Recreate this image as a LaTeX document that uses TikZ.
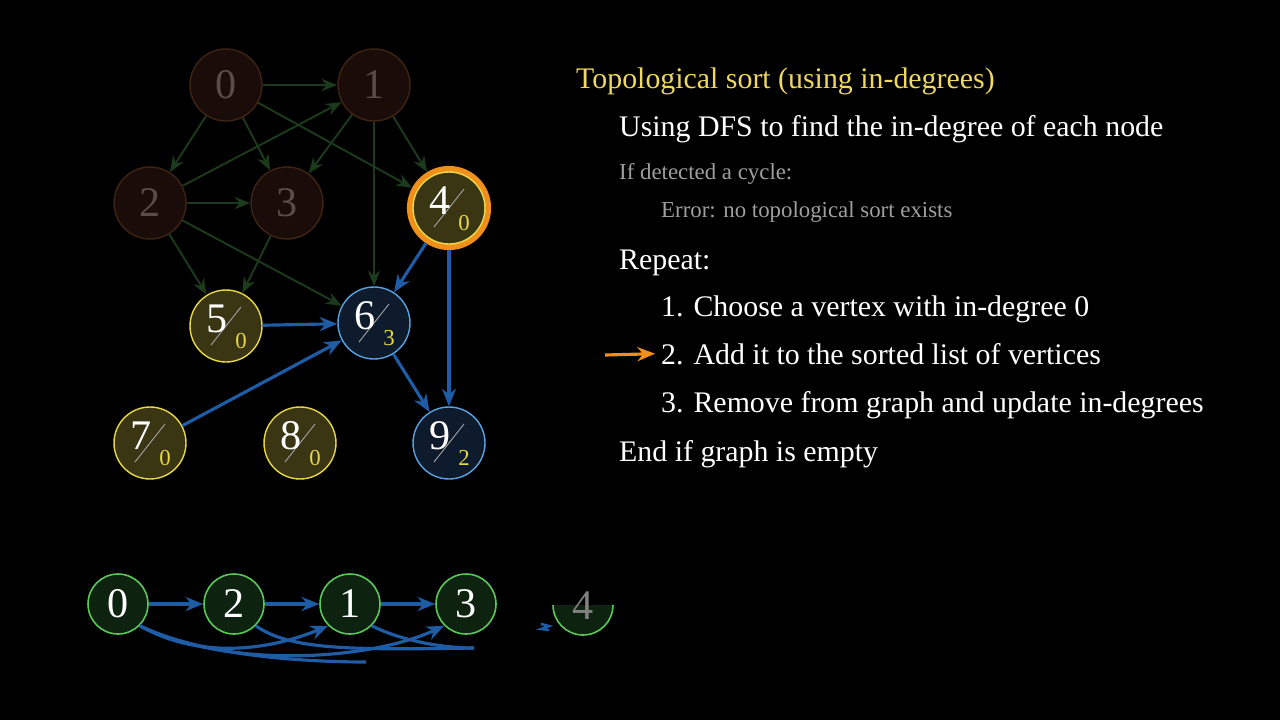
\documentclass[tikz,border=0pt]{standalone}
\usepackage{fontspec}
\setmainfont{Liberation Serif}
\usetikzlibrary{arrows.meta,positioning}
\definecolor{bgblack}{HTML}{000000}
\definecolor{fadefill}{HTML}{1A0C08}
\definecolor{fadeline}{HTML}{3F2414}
\definecolor{fadetext}{HTML}{5C4C48}
\definecolor{fadeedge}{HTML}{1C3A1C}
\definecolor{yelfill}{HTML}{3A3512}
\definecolor{yelline}{HTML}{E8D84A}
\definecolor{bluefill}{HTML}{0E1B2C}
\definecolor{blueline}{HTML}{5AA2E2}
\definecolor{edgeblue}{HTML}{1F5CA6}
\definecolor{ringorange}{HTML}{F0901A}
\definecolor{listfill}{HTML}{0E2210}
\definecolor{listline}{HTML}{5CC85C}
\definecolor{titleyel}{HTML}{EED860}

% in-degree label inside a vertex
\newcommand{\indeg}[3]{%
  \draw[gray!70, line width=0.5pt] ([shift={(-15,19)}]#1.center) -- ([shift={(15,-19)}]#1.center);
  \node[font=\fontsize{24}{24}\selectfont, text=white] at ([shift={(-9,-7)}]#1.center) {#2};
  \node[font=\fontsize{13}{13}\selectfont, text=yelline] at ([shift={(15,15)}]#1.center) {#3};
}

\begin{document}
\begin{tikzpicture}[
  x=0.02cm, y=-0.02cm,
  vtx/.style={circle, minimum size=1.44cm, inner sep=0pt, line width=0.8pt},
  faded/.style={vtx, fill=fadefill, draw=fadeline, text=fadetext,
                font=\fontsize{24}{24}\selectfont},
  ready/.style={vtx, fill=yelfill, draw=yelline},
  waiting/.style={vtx, fill=bluefill, draw=blueline},
  listed/.style={circle, minimum size=1.2cm, inner sep=0pt, line width=0.9pt,
                 fill=listfill, draw=listline, text=white, font=\fontsize{24}{24}\selectfont},
  oldedge/.style={-{Stealth[length=9pt,width=7pt]}, draw=fadeedge, line width=1.1pt},
  newedge/.style={-{Stealth[length=10pt,width=8pt]}, draw=edgeblue, line width=1.8pt},
  stepline/.style={anchor=base west, text=white, font=\fontsize{17}{17}\selectfont},
  noteline/.style={anchor=base west, text=gray!75, font=\fontsize{13}{13}\selectfont}
]
  \fill[bgblack] (0,0) rectangle (1280,720);
  \useasboundingbox (0,0) rectangle (1280,720);

  % graph vertices
  \node[faded] (v0) at (226,85) {0};
  \node[faded] (v1) at (374,85) {1};
  \node[faded] (v2) at (150,203) {2};
  \node[faded] (v3) at (287,203) {3};
  \node[ready, draw=ringorange, line width=3.5pt, minimum size=1.56cm] (ring4) at (449,208) {};
  \node[ready] (v4) at (449,208) {};
  \node[ready] (v5) at (226,326) {};
  \node[waiting] (v6) at (374,323) {};
  \node[ready] (v7) at (150,443) {};
  \node[ready] (v8) at (300,443) {};
  \node[waiting] (v9) at (449,443) {};

  \indeg{v4}{4}{0}
  \indeg{v5}{5}{0}
  \indeg{v6}{6}{3}
  \indeg{v7}{7}{0}
  \indeg{v8}{8}{0}
  \indeg{v9}{9}{2}

  % removed edges
  \draw[oldedge] (v0) -- (v1);
  \draw[oldedge] (v0) -- (v2);
  \draw[oldedge] (v0) -- (v3);
  \draw[oldedge] (v0) -- (ring4);
  \draw[oldedge] (v1) -- (v3);
  \draw[oldedge] (v1) -- (ring4);
  \draw[oldedge] (v1) -- (v6);
  \draw[oldedge] (v2) -- (v1);
  \draw[oldedge] (v2) -- (v3);
  \draw[oldedge] (v2) -- (v5);
  \draw[oldedge] (v2) -- (v6);
  \draw[oldedge] (v3) -- (v5);

  % remaining edges
  \draw[newedge] (ring4) -- (v6);
  \draw[newedge] (ring4.south) -- (v9.north);
  \draw[newedge] (v5) -- (v6);
  \draw[newedge] (v6) -- (v9);
  \draw[newedge] (v7) -- (v6);

  % sorted list
  \node[listed] (s0) at (118,604) {0};
  \node[listed] (s2) at (234,604) {2};
  \node[listed] (s1) at (350,604) {1};
  \node[listed] (s3) at (466,604) {3};
  \draw[newedge] (s0) -- (s2);
  \draw[newedge] (s2) -- (s1);
  \draw[newedge] (s1) -- (s3);
  \draw[newedge] (s0.south east) .. controls (200,660) and (270,650) .. (s1.south west);
  \draw[newedge] (s0.south east) .. controls (230,670) and (370,660) .. (s3.south west);
  \coordinate (tail0) at (366,662);
  \coordinate (tail1) at (474,648);
  \draw[edgeblue, line width=1.8pt] (s0.south east) .. controls (200,655) and (300,662) .. (tail0);
  \draw[edgeblue, line width=1.8pt] (s2.south east) .. controls (290,650) and (350,650) .. (tail1);
  \draw[edgeblue, line width=1.8pt] (s1.south east) .. controls (400,640) and (440,648) .. (tail1);
  \coordinate (mark) at (545,627);
  \draw[edgeblue, line width=1.4pt] ([shift={(-4,-3)}]mark) -- ([shift={(4,-1)}]mark) -- ([shift={(-4,2)}]mark) -- ([shift={(4,3)}]mark);
  \coordinate (s4) at (583,605);
  \fill[listfill] ([shift={(-30,0)}]s4) arc (180:0:30) -- cycle;
  \draw[listline, line width=0.9pt] ([shift={(-30,0)}]s4) arc (180:0:30);
  \node[text=gray, font=\fontsize{24}{24}\selectfont] (s4label) at ([shift={(0,1)}]s4) {4};

  % algorithm text
  \node[stepline, text=titleyel] (title) at (570,88) {Topological sort (using in-degrees)};
  \node[stepline] (dfs) at (613,136) {Using DFS to find the in-degree of each node};
  \node[noteline] (cycle) at (613,179) {If detected a cycle:};
  \node[noteline] (error) at (655,217) {Error: no topological sort exists};
  \node[stepline] (repeat) at (613,269) {Repeat:};
  \node[stepline] (choose) at (655,316) {1. Choose a vertex with in-degree 0};
  \node[stepline] (add) at (655,364) {2. Add it to the sorted list of vertices};
  \node[stepline] (remove) at (655,412) {3. Remove from graph and update in-degrees};
  \node[stepline] (stop) at (613,461) {End if graph is empty};
  \coordinate (ptr) at (605,355);
  \draw[-{Stealth[length=10pt,width=8pt]}, ringorange, line width=1.8pt] (ptr) -- (add.west);
\end{tikzpicture}
\end{document}
